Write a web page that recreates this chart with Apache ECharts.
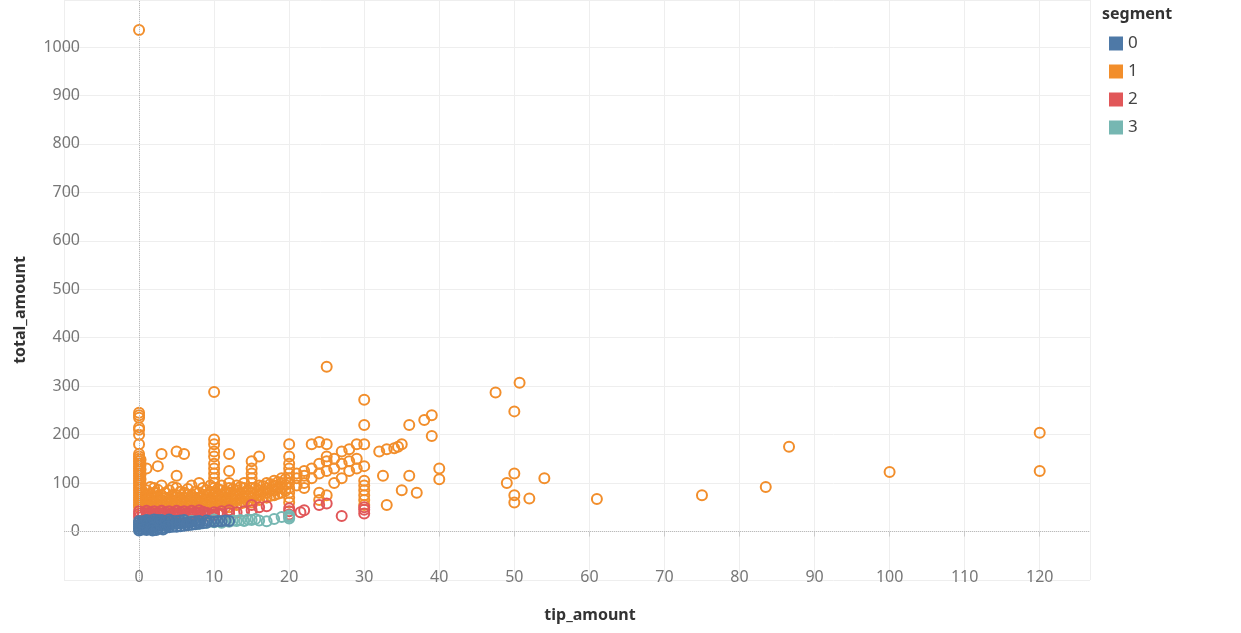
<!DOCTYPE html><html><head><meta charset="utf-8"><script src="https://cdn.jsdelivr.net/npm/echarts@6/dist/echarts.min.js"></script>
<style>html,body{margin:0;background:#fff}#c{width:1241px;height:633px}</style></head><body><div id="c"></div><script>
const xTicks=[0,10,20,30,40,50,60,70,80,90,100,110,120];
const yTicks=[0,100,200,300,400,500,600,700,800,900,1000];
const segments=['0','1','2','3'];
const colors=['#4e79a7','#f28e2b','#e15759','#76b7b2'];
const seg0=[[0,2],[0,6],[0,10],[0,14],[0,18],[0,22],[0.5,4],[0.5,9],[0.5,15],[0.5,21],[1,3],[1,8],[1,13],[1,19],[1,24],[1.5,5],[1.5,11],[1.5,17],[1.5,23],[2,4],[2,9],[2,14],[2,20],[2,25],[2.5,6],[2.5,12],[2.5,18],[2.5,24],[3,7],[3,13],[3,19],[3,24],[3.5,8],[3.5,14],[3.5,20],[4,9],[4,15],[4,21],[4,25],[4.5,10],[4.5,16],[4.5,22],[5,10],[5,16],[5,22],[5.5,11],[5.5,17],[5.5,23],[6,12],[6,18],[6,24],[6.5,13],[6.5,19],[7,14],[7,20],[7.5,15],[7.5,21],[8,16],[8,22],[8.5,17],[9,18],[9,23],[10,20],[11,21],[12,22],[0.3,12],[1.2,16],[2.7,21],[3.8,11],[6.3,15],[7.8,18],[9.5,21],[10.5,22],[11.5,23],[0.2,4],[0.8,7],[1.8,2],[2.3,3],[3.2,4],[0.4,18],[1.7,9]];
const seg2=[[0,30],[0,36],[0,42],[0.5,33],[0.5,39],[1,31],[1,37],[1,43],[1.5,34],[1.5,40],[2,30],[2,36],[2,42],[2.5,33],[2.5,39],[3,31],[3,37],[3,43],[3.5,34],[3.5,40],[4,30],[4,36],[4,42],[4.5,33],[4.5,39],[5,31],[5,37],[5,43],[5.5,34],[5.5,40],[6,30],[6,36],[6,42],[6.5,33],[6.5,39],[7,31],[7,37],[7,43],[7.5,34],[7.5,40],[8,32],[8,38],[8,44],[8.5,35],[8.5,41],[9,33],[9,39],[9.5,36],[10,34],[10,40],[10.5,37],[11,36],[11,42],[12,38],[12,44],[13,40],[14,42],[15,44],[16,50],[17,52],[15,55],[20,35],[20,42],[20,48],[21.5,40],[22,44],[24,55],[25,58],[27,32],[30,37],[30,45],[30,50]];
const seg3=[[8,16],[9,18],[10,19],[10.5,22],[11,18],[11.5,22],[12,20],[12.5,23],[13,22],[13.5,24],[14,22],[14.5,25],[15,24],[15.5,26],[16,23],[17,21],[18,26],[19,30],[20,27],[20,30],[20,33],[10,25],[6,20],[7,22]];
const seg1=[[0,1035],[0,245],[0,240],[0,235],[0,215],[0,210],[0,200],[0,180],[0,160],[0,150],[0,140],[0,130],[0,120],[0,110],[0,100],[0,90],[0,80],[0,70],[0,60],[0,50],[0,155],[0,145],[0,135],[0,125],[0,115],[0,105],[0,95],[0,85],[0,75],[0,65],[0,55],
[1,55],[1,65],[1,75],[1,85],[1,60],[1,70],[1,130],[2,50],[2,60],[2,70],[2,80],[2,90],[3,55],[3,65],[3,75],[3,95],[2.5,135],[3,160],[4,50],[4,60],[4,70],[4,85],[5,55],[5,65],[5,75],[5,90],[5,115],[5,165],[6,50],[6,60],[6,70],[6,80],[6,160],[7,55],[7,65],[7,75],[7,95],[8,50],[8,60],[8,70],[8,80],[8,100],[9,55],[9,65],[9,75],[9,85],
[0.5,52],[0.5,62],[0.5,72],[0.5,82],[1.5,50],[1.5,58],[1.5,66],[1.5,78],[1.5,92],[2.5,54],[2.5,64],[2.5,74],[2.5,86],[3.5,50],[3.5,60],[3.5,70],[3.5,80],[4.5,54],[4.5,64],[4.5,76],[4.5,92],[5.5,50],[5.5,60],[5.5,70],[5.5,82],[6.5,54],[6.5,64],[6.5,76],[6.5,88],[7.5,50],[7.5,60],[7.5,70],[7.5,82],[8.5,54],[8.5,64],[8.5,76],[8.5,90],[9.5,50],[9.5,60],[9.5,70],[9.5,82],[9.5,95],[10.5,54],[10.5,64],[10.5,76],[10.5,88],[11.5,50],[11.5,60],[11.5,70],[11.5,82],[12.5,56],[12.5,66],[12.5,76],[12.5,88],[13.5,58],[13.5,68],[13.5,80],[13.5,92],[14.5,62],[14.5,74],[14.5,86],[15.5,66],[15.5,78],[15.5,90],[16.5,70],[16.5,82],[16.5,94],[17.5,74],[17.5,86],[17.5,98],[18.5,78],[18.5,90],[18.5,102],[19.5,84],[19.5,96],[19.5,108],[0.2,58],[0.2,68],[0.2,78],[0.2,88],[0.2,98],[0.2,108],[0.2,118],[0.2,128],[0.2,138],[0.2,148],
[10,50],[10,60],[10,70],[10,80],[10,90],[10,100],[10,110],[10,120],[10,130],[10,140],[10,155],[10,165],[10,180],[10,190],[10,288],[11,55],[11,65],[11,75],[11,85],[11,95],[12,50],[12,60],[12,70],[12,80],[12,90],[12,100],[12,125],[12,160],[13,55],[13,65],[13,75],[13,85],[13,95],[14,60],[14,70],[14,80],[14,90],[14,100],[15,60],[15,70],[15,80],[15,90],[15,100],[15,110],[15,120],[15,130],[15,145],[16,65],[16,75],[16,85],[16,95],[16,155],[17,70],[17,80],[17,90],[17,100],[18,75],[18,85],[18,95],[18,105],[19,80],[19,90],[19,100],[19,110],
[20,60],[20,70],[20,80],[20,90],[20,100],[20,110],[20,120],[20,130],[20,140],[20,155],[20,180],[21,95],[21,110],[21,120],[22,100],[22,115],[22,125],[22,90],[23,110],[23,130],[23,180],[24,120],[24,140],[24,185],[25,125],[25,145],[25,155],[25,340],[25,180],[26,130],[26,150],[27,140],[27,165],[28,145],[28,170],[29,150],[29,180],[24,65],[24,80],[25,75],[26,100],[27,110],[28,125],[29,130],
[30,55],[30,65],[30,75],[30,85],[30,95],[30,105],[30,135],[30,180],[30,220],[30,272],[32,165],[32.5,115],[33,170],[33,55],[34,172],[34.5,175],[35,180],[35,85],[36,220],[36,115],[37,80],[38,230],[39,240],[39,197],[40,130],[40,108],[47.5,287],[49,100],[50,248],[50,75],[50,60],[50,120],[50.7,307],[52,68],[54,110],[61,67],[75,75],[83.5,92],[86.6,175],[100,123],[120,204],[120,125]];
const data=[seg0,seg1,seg2,seg3];
const axisText={color:'#777',fontSize:16,fontFamily:'Noto Sans'};
const chart=echarts.init(document.getElementById('c'));
chart.setOption({
animation:false,
grid:{left:64,right:151,top:0,bottom:53,outerBoundsMode:'none',containLabel:false},
legend:{orient:'vertical',left:1104,top:30,itemWidth:14,itemHeight:14,itemGap:11,icon:'rect',data:segments.map((s,i)=>({name:s,itemStyle:{color:colors[i],borderWidth:0}})),textStyle:{color:'#444',fontSize:17,fontFamily:'Noto Sans'}},
graphic:[{type:'text',left:1102,top:6,style:{text:'segment',fontSize:16,fontWeight:'bold',fill:'#333',fontFamily:'Noto Sans'}}],
xAxis:{type:'value',min:-10,max:126.7,interval:10,name:'tip_amount',nameLocation:'middle',nameGap:27,nameTextStyle:{color:'#333',fontSize:16,fontWeight:'bold',fontFamily:'Noto Sans',padding:[0,0,0,26]},
axisLine:{show:false},axisTick:{show:true,length:5,lineStyle:{color:'#ccc'}},axisLabel:Object.assign({margin:-11,showMinLabel:false,showMaxLabel:false},axisText),splitLine:{lineStyle:{color:'#eee'}}},
yAxis:{type:'value',min:-100,max:1097,interval:100,name:'total_amount',nameLocation:'middle',nameGap:36,nameTextStyle:{color:'#333',fontSize:16,fontWeight:'bold',fontFamily:'Noto Sans',padding:[0,40,0,0]},
axisLine:{show:false},axisTick:{show:false},axisLabel:Object.assign({margin:-16,showMinLabel:false,showMaxLabel:false,formatter:v=>String(v)},axisText),splitLine:{lineStyle:{color:'#eee'}}},
series:data.map((d,i)=>({name:segments[i],type:'scatter',data:d,symbol:'circle',symbolSize:10,itemStyle:{color:'rgba(0,0,0,0)',borderColor:colors[i],borderWidth:2,opacity:1},z:i===1?2:(i===2?3:(i===0?5:4)),
markLine:i===0?{silent:true,symbol:'none',label:{show:false},lineStyle:{color:'#bbb',type:'dotted',width:1},data:[{xAxis:0},{yAxis:0}]}:undefined}))
});
</script></body></html>
